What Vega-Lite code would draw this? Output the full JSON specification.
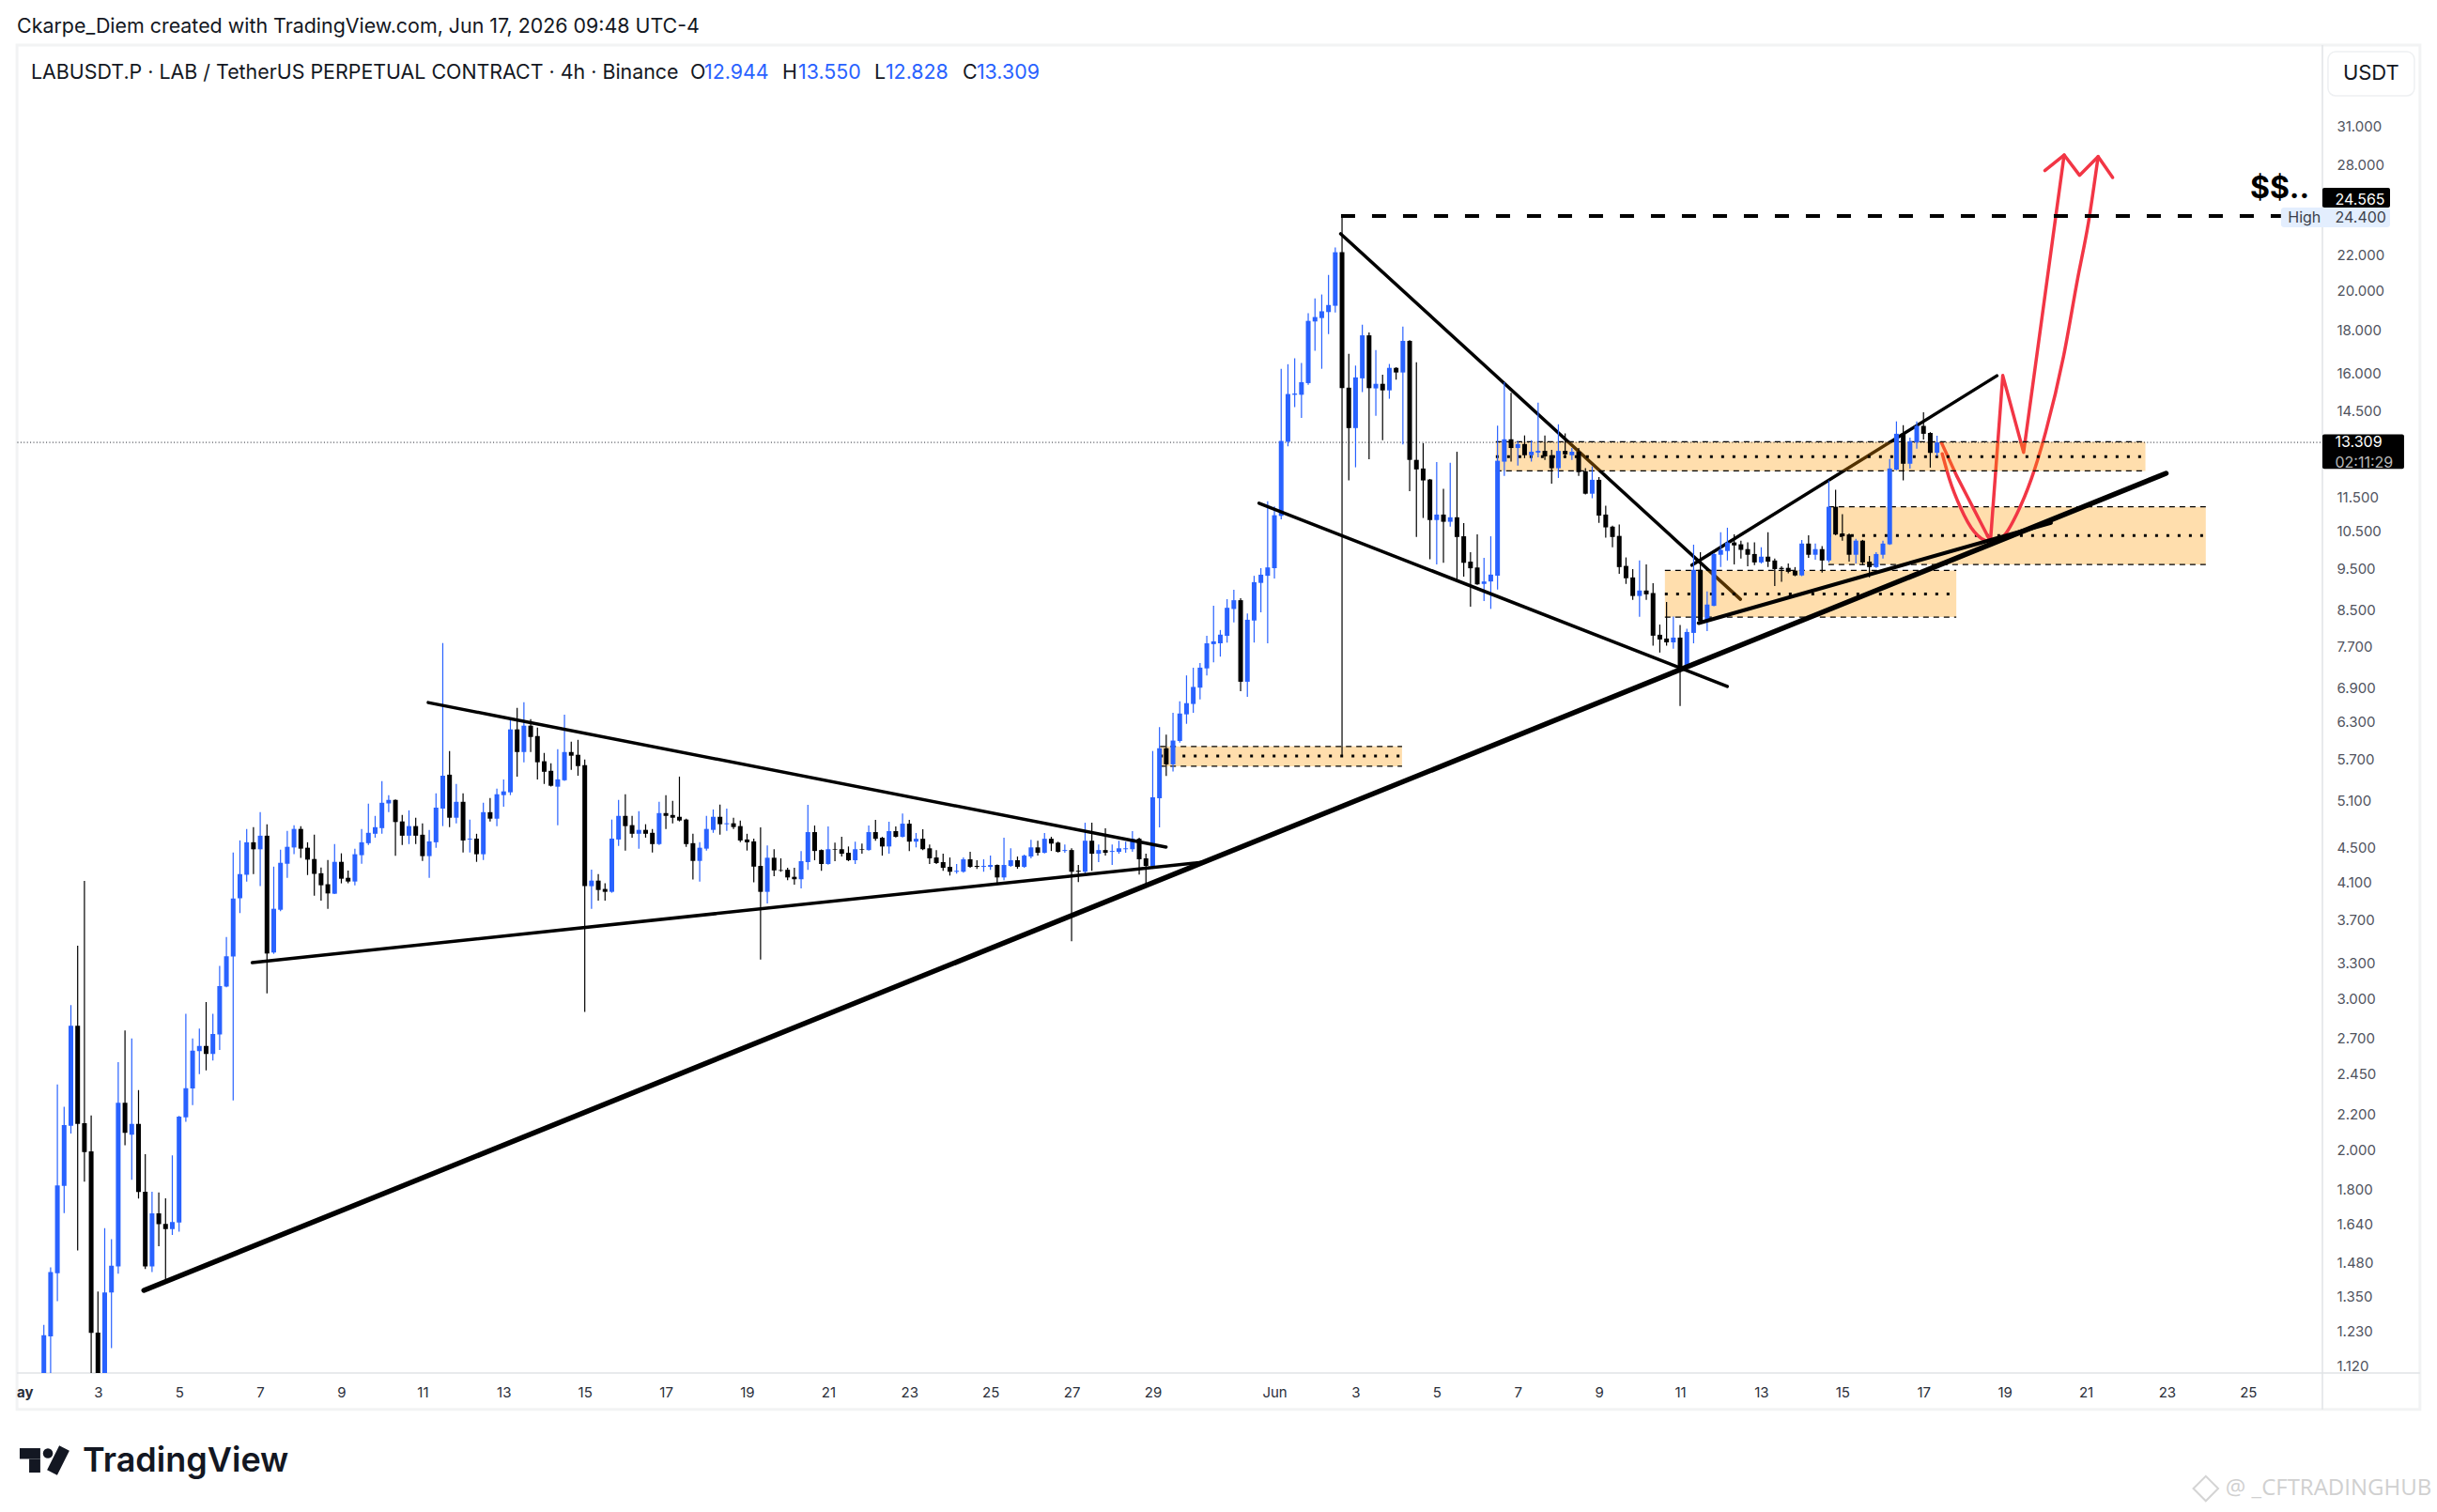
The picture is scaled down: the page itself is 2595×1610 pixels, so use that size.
{
"$schema":"https://vega.github.io/schema/vega-lite/v6.json",
"description":"LABUSDT.P 4h candles with trend lines, supply zones and projected path",
"width":2454.5,"height":1414,"autosize":"none",
"padding":{"left":18.5,"top":48,"right":122,"bottom":148},
"background":"white",
"config":{"view":{"stroke":null},"font":"Inter"},
"resolve":{"axis":{"x":"independent","y":"independent"}},
"datasets":{
"candles":[
{"t":"2026-05-01T16:00Z","o":1.05,"h":1.252,"l":1.0,"c":1.218},
{"t":"2026-05-01T20:00Z","o":1.214,"h":1.46,"l":1.05,"c":1.442},
{"t":"2026-05-02T00:00Z","o":1.438,"h":2.384,"l":1.334,"c":1.819},
{"t":"2026-05-02T04:00Z","o":1.817,"h":2.246,"l":1.689,"c":2.138},
{"t":"2026-05-02T08:00Z","o":2.134,"h":2.949,"l":2.09,"c":2.79},
{"t":"2026-05-02T12:00Z","o":2.79,"h":3.456,"l":1.528,"c":2.145},
{"t":"2026-05-02T16:00Z","o":2.149,"h":4.111,"l":1.837,"c":1.989},
{"t":"2026-05-02T20:00Z","o":1.993,"h":2.193,"l":1.05,"c":1.225},
{"t":"2026-05-03T00:00Z","o":1.226,"h":1.369,"l":1.0,"c":1.05},
{"t":"2026-05-03T04:00Z","o":1.05,"h":1.622,"l":1.0,"c":1.365},
{"t":"2026-05-03T08:00Z","o":1.365,"h":1.575,"l":1.176,"c":1.467},
{"t":"2026-05-03T12:00Z","o":1.464,"h":2.531,"l":1.436,"c":2.27},
{"t":"2026-05-03T16:00Z","o":2.27,"h":2.755,"l":2.025,"c":2.094},
{"t":"2026-05-03T20:00Z","o":2.083,"h":2.696,"l":1.847,"c":2.145},
{"t":"2026-05-04T00:00Z","o":2.145,"h":2.348,"l":1.756,"c":1.787},
{"t":"2026-05-04T04:00Z","o":1.788,"h":1.978,"l":1.454,"c":1.464},
{"t":"2026-05-04T08:00Z","o":1.464,"h":1.788,"l":1.442,"c":1.688},
{"t":"2026-05-04T12:00Z","o":1.688,"h":1.785,"l":1.545,"c":1.639},
{"t":"2026-05-04T16:00Z","o":1.641,"h":1.757,"l":1.411,"c":1.618},
{"t":"2026-05-04T20:00Z","o":1.618,"h":1.971,"l":1.593,"c":1.649},
{"t":"2026-05-05T00:00Z","o":1.647,"h":2.191,"l":1.607,"c":2.187},
{"t":"2026-05-05T04:00Z","o":2.183,"h":2.88,"l":2.157,"c":2.36},
{"t":"2026-05-05T08:00Z","o":2.358,"h":2.696,"l":2.255,"c":2.609},
{"t":"2026-05-05T12:00Z","o":2.607,"h":2.769,"l":2.45,"c":2.642},
{"t":"2026-05-05T16:00Z","o":2.642,"h":2.973,"l":2.475,"c":2.586},
{"t":"2026-05-05T20:00Z","o":2.586,"h":2.88,"l":2.542,"c":2.729},
{"t":"2026-05-06T00:00Z","o":2.726,"h":3.275,"l":2.615,"c":3.102},
{"t":"2026-05-06T04:00Z","o":3.099,"h":3.537,"l":3.092,"c":3.361},
{"t":"2026-05-06T08:00Z","o":3.358,"h":4.438,"l":2.284,"c":3.923},
{"t":"2026-05-06T12:00Z","o":3.925,"h":4.583,"l":3.772,"c":4.187},
{"t":"2026-05-06T16:00Z","o":4.18,"h":4.726,"l":4.105,"c":4.56},
{"t":"2026-05-06T20:00Z","o":4.56,"h":4.75,"l":4.187,"c":4.475},
{"t":"2026-05-07T00:00Z","o":4.475,"h":4.943,"l":4.054,"c":4.641},
{"t":"2026-05-07T04:00Z","o":4.641,"h":4.786,"l":3.043,"c":3.385},
{"t":"2026-05-07T08:00Z","o":3.394,"h":4.272,"l":3.382,"c":3.816},
{"t":"2026-05-07T12:00Z","o":3.806,"h":4.471,"l":3.791,"c":4.316},
{"t":"2026-05-07T16:00Z","o":4.305,"h":4.702,"l":4.146,"c":4.505},
{"t":"2026-05-07T20:00Z","o":4.497,"h":4.774,"l":4.416,"c":4.726},
{"t":"2026-05-08T00:00Z","o":4.726,"h":4.762,"l":4.372,"c":4.483},
{"t":"2026-05-08T04:00Z","o":4.494,"h":4.56,"l":4.177,"c":4.353},
{"t":"2026-05-08T08:00Z","o":4.36,"h":4.653,"l":3.952,"c":4.19},
{"t":"2026-05-08T12:00Z","o":4.197,"h":4.261,"l":3.901,"c":4.064},
{"t":"2026-05-08T16:00Z","o":4.075,"h":4.349,"l":3.816,"c":3.976},
{"t":"2026-05-08T20:00Z","o":3.973,"h":4.538,"l":3.97,"c":4.327},
{"t":"2026-05-09T00:00Z","o":4.327,"h":4.427,"l":4.085,"c":4.136},
{"t":"2026-05-09T04:00Z","o":4.146,"h":4.228,"l":4.085,"c":4.105},
{"t":"2026-05-09T08:00Z","o":4.105,"h":4.483,"l":4.064,"c":4.416},
{"t":"2026-05-09T12:00Z","o":4.405,"h":4.726,"l":4.305,"c":4.56},
{"t":"2026-05-09T16:00Z","o":4.549,"h":5.056,"l":4.527,"c":4.677},
{"t":"2026-05-09T20:00Z","o":4.665,"h":4.894,"l":4.617,"c":4.748},
{"t":"2026-05-10T00:00Z","o":4.736,"h":5.371,"l":4.665,"c":5.069},
{"t":"2026-05-10T04:00Z","o":5.06,"h":5.174,"l":4.943,"c":5.108},
{"t":"2026-05-10T08:00Z","o":5.108,"h":5.115,"l":4.398,"c":4.814},
{"t":"2026-05-10T12:00Z","o":4.822,"h":4.906,"l":4.527,"c":4.641},
{"t":"2026-05-10T16:00Z","o":4.641,"h":4.967,"l":4.538,"c":4.762},
{"t":"2026-05-10T20:00Z","o":4.762,"h":4.87,"l":4.538,"c":4.641},
{"t":"2026-05-11T00:00Z","o":4.653,"h":4.798,"l":4.338,"c":4.394},
{"t":"2026-05-11T04:00Z","o":4.394,"h":4.714,"l":4.146,"c":4.571},
{"t":"2026-05-11T08:00Z","o":4.56,"h":5.2,"l":4.494,"c":5.003},
{"t":"2026-05-11T12:00Z","o":4.991,"h":7.776,"l":4.762,"c":5.45},
{"t":"2026-05-11T16:00Z","o":5.465,"h":5.822,"l":4.75,"c":4.87},
{"t":"2026-05-11T20:00Z","o":4.87,"h":5.331,"l":4.798,"c":5.082},
{"t":"2026-05-12T00:00Z","o":5.082,"h":5.2,"l":4.438,"c":4.582},
{"t":"2026-05-12T04:00Z","o":4.594,"h":4.846,"l":4.438,"c":4.605},
{"t":"2026-05-12T08:00Z","o":4.605,"h":4.665,"l":4.327,"c":4.416},
{"t":"2026-05-12T12:00Z","o":4.416,"h":5.069,"l":4.349,"c":4.943},
{"t":"2026-05-12T16:00Z","o":4.943,"h":5.134,"l":4.822,"c":4.858},
{"t":"2026-05-12T20:00Z","o":4.858,"h":5.266,"l":4.762,"c":5.187},
{"t":"2026-05-13T00:00Z","o":5.174,"h":5.397,"l":5.016,"c":5.226},
{"t":"2026-05-13T04:00Z","o":5.213,"h":6.341,"l":5.174,"c":6.17},
{"t":"2026-05-13T08:00Z","o":6.17,"h":6.535,"l":5.437,"c":5.807},
{"t":"2026-05-13T12:00Z","o":5.807,"h":6.637,"l":5.65,"c":6.232},
{"t":"2026-05-13T16:00Z","o":6.232,"h":6.341,"l":5.807,"c":6.046},
{"t":"2026-05-13T20:00Z","o":6.061,"h":6.201,"l":5.397,"c":5.65},
{"t":"2026-05-14T00:00Z","o":5.665,"h":5.793,"l":5.331,"c":5.508},
{"t":"2026-05-14T04:00Z","o":5.522,"h":5.636,"l":5.296,"c":5.305},
{"t":"2026-05-14T08:00Z","o":5.292,"h":5.85,"l":4.774,"c":5.397},
{"t":"2026-05-14T12:00Z","o":5.384,"h":6.418,"l":5.375,"c":5.807},
{"t":"2026-05-14T16:00Z","o":5.807,"h":5.969,"l":5.536,"c":5.75},
{"t":"2026-05-14T20:00Z","o":5.764,"h":6.0,"l":5.45,"c":5.593},
{"t":"2026-05-15T00:00Z","o":5.608,"h":5.693,"l":2.894,"c":4.054},
{"t":"2026-05-15T04:00Z","o":4.054,"h":4.238,"l":3.816,"c":4.115},
{"t":"2026-05-15T08:00Z","o":4.115,"h":4.187,"l":3.901,"c":4.013},
{"t":"2026-05-15T12:00Z","o":4.024,"h":4.085,"l":3.901,"c":3.993},
{"t":"2026-05-15T16:00Z","o":3.993,"h":4.846,"l":3.983,"c":4.605},
{"t":"2026-05-15T20:00Z","o":4.594,"h":5.108,"l":4.516,"c":4.894},
{"t":"2026-05-16T00:00Z","o":4.894,"h":5.187,"l":4.46,"c":4.762},
{"t":"2026-05-16T04:00Z","o":4.774,"h":4.894,"l":4.617,"c":4.665},
{"t":"2026-05-16T08:00Z","o":4.665,"h":4.955,"l":4.483,"c":4.714},
{"t":"2026-05-16T12:00Z","o":4.714,"h":4.786,"l":4.617,"c":4.665},
{"t":"2026-05-16T16:00Z","o":4.677,"h":4.726,"l":4.438,"c":4.538},
{"t":"2026-05-16T20:00Z","o":4.538,"h":5.082,"l":4.527,"c":4.931},
{"t":"2026-05-17T00:00Z","o":4.931,"h":5.174,"l":4.726,"c":4.894},
{"t":"2026-05-17T04:00Z","o":4.906,"h":5.095,"l":4.798,"c":4.87},
{"t":"2026-05-17T08:00Z","o":4.882,"h":5.437,"l":4.822,"c":4.834},
{"t":"2026-05-17T12:00Z","o":4.846,"h":4.858,"l":4.505,"c":4.538},
{"t":"2026-05-17T16:00Z","o":4.549,"h":4.665,"l":4.126,"c":4.338},
{"t":"2026-05-17T20:00Z","o":4.338,"h":4.56,"l":4.105,"c":4.494},
{"t":"2026-05-18T00:00Z","o":4.483,"h":4.894,"l":4.46,"c":4.726},
{"t":"2026-05-18T04:00Z","o":4.714,"h":4.979,"l":4.677,"c":4.882},
{"t":"2026-05-18T08:00Z","o":4.882,"h":5.043,"l":4.653,"c":4.786},
{"t":"2026-05-18T12:00Z","o":4.786,"h":4.991,"l":4.702,"c":4.798},
{"t":"2026-05-18T16:00Z","o":4.798,"h":4.87,"l":4.726,"c":4.75},
{"t":"2026-05-18T20:00Z","o":4.762,"h":4.834,"l":4.56,"c":4.582},
{"t":"2026-05-19T00:00Z","o":4.594,"h":4.665,"l":4.46,"c":4.56},
{"t":"2026-05-19T04:00Z","o":4.571,"h":4.605,"l":4.095,"c":4.272},
{"t":"2026-05-19T08:00Z","o":4.28,"h":4.746,"l":3.331,"c":3.993},
{"t":"2026-05-19T12:00Z","o":3.993,"h":4.52,"l":3.87,"c":4.375},
{"t":"2026-05-19T16:00Z","o":4.375,"h":4.476,"l":4.164,"c":4.229},
{"t":"2026-05-19T20:00Z","o":4.232,"h":4.368,"l":4.214,"c":4.225},
{"t":"2026-05-20T00:00Z","o":4.236,"h":4.258,"l":4.12,"c":4.15},
{"t":"2026-05-20T04:00Z","o":4.157,"h":4.258,"l":4.07,"c":4.13},
{"t":"2026-05-20T08:00Z","o":4.13,"h":4.455,"l":4.03,"c":4.335},
{"t":"2026-05-20T12:00Z","o":4.324,"h":5.041,"l":4.236,"c":4.686},
{"t":"2026-05-20T16:00Z","o":4.686,"h":4.769,"l":4.346,"c":4.455},
{"t":"2026-05-20T20:00Z","o":4.466,"h":4.473,"l":4.225,"c":4.302},
{"t":"2026-05-21T00:00Z","o":4.302,"h":4.758,"l":4.295,"c":4.476},
{"t":"2026-05-21T04:00Z","o":4.476,"h":4.556,"l":4.335,"c":4.469},
{"t":"2026-05-21T08:00Z","o":4.476,"h":4.627,"l":4.389,"c":4.422},
{"t":"2026-05-21T12:00Z","o":4.433,"h":4.509,"l":4.335,"c":4.346},
{"t":"2026-05-21T16:00Z","o":4.346,"h":4.568,"l":4.302,"c":4.476},
{"t":"2026-05-21T20:00Z","o":4.476,"h":4.544,"l":4.422,"c":4.469},
{"t":"2026-05-22T00:00Z","o":4.466,"h":4.769,"l":4.458,"c":4.686},
{"t":"2026-05-22T04:00Z","o":4.686,"h":4.841,"l":4.579,"c":4.603},
{"t":"2026-05-22T08:00Z","o":4.615,"h":4.627,"l":4.4,"c":4.509},
{"t":"2026-05-22T12:00Z","o":4.509,"h":4.817,"l":4.422,"c":4.698},
{"t":"2026-05-22T16:00Z","o":4.698,"h":4.758,"l":4.619,"c":4.627},
{"t":"2026-05-22T20:00Z","o":4.627,"h":4.925,"l":4.619,"c":4.793},
{"t":"2026-05-23T00:00Z","o":4.793,"h":4.841,"l":4.455,"c":4.568},
{"t":"2026-05-23T04:00Z","o":4.568,"h":4.675,"l":4.498,"c":4.603},
{"t":"2026-05-23T08:00Z","o":4.603,"h":4.722,"l":4.466,"c":4.476},
{"t":"2026-05-23T12:00Z","o":4.487,"h":4.532,"l":4.302,"c":4.368},
{"t":"2026-05-23T16:00Z","o":4.378,"h":4.466,"l":4.302,"c":4.313},
{"t":"2026-05-23T20:00Z","o":4.324,"h":4.422,"l":4.225,"c":4.258},
{"t":"2026-05-24T00:00Z","o":4.269,"h":4.378,"l":4.171,"c":4.214},
{"t":"2026-05-24T04:00Z","o":4.214,"h":4.302,"l":4.193,"c":4.225},
{"t":"2026-05-24T08:00Z","o":4.214,"h":4.378,"l":4.204,"c":4.357},
{"t":"2026-05-24T12:00Z","o":4.357,"h":4.444,"l":4.258,"c":4.269},
{"t":"2026-05-24T16:00Z","o":4.28,"h":4.346,"l":4.247,"c":4.269},
{"t":"2026-05-24T20:00Z","o":4.269,"h":4.357,"l":4.214,"c":4.28},
{"t":"2026-05-25T00:00Z","o":4.269,"h":4.4,"l":4.236,"c":4.291},
{"t":"2026-05-25T04:00Z","o":4.291,"h":4.298,"l":4.09,"c":4.15},
{"t":"2026-05-25T08:00Z","o":4.15,"h":4.615,"l":4.12,"c":4.291},
{"t":"2026-05-25T12:00Z","o":4.28,"h":4.487,"l":4.269,"c":4.346},
{"t":"2026-05-25T16:00Z","o":4.346,"h":4.389,"l":4.247,"c":4.269},
{"t":"2026-05-25T20:00Z","o":4.269,"h":4.411,"l":4.258,"c":4.4},
{"t":"2026-05-26T00:00Z","o":4.389,"h":4.591,"l":4.368,"c":4.498},
{"t":"2026-05-26T04:00Z","o":4.498,"h":4.579,"l":4.4,"c":4.433},
{"t":"2026-05-26T08:00Z","o":4.433,"h":4.675,"l":4.426,"c":4.603},
{"t":"2026-05-26T12:00Z","o":4.603,"h":4.627,"l":4.455,"c":4.544},
{"t":"2026-05-26T16:00Z","o":4.556,"h":4.568,"l":4.436,"c":4.444},
{"t":"2026-05-26T20:00Z","o":4.455,"h":4.532,"l":4.433,"c":4.466},
{"t":"2026-05-27T00:00Z","o":4.466,"h":4.487,"l":3.498,"c":4.214},
{"t":"2026-05-27T04:00Z","o":4.225,"h":4.291,"l":4.1,"c":4.214},
{"t":"2026-05-27T08:00Z","o":4.214,"h":4.805,"l":4.171,"c":4.579},
{"t":"2026-05-27T12:00Z","o":4.579,"h":4.805,"l":4.225,"c":4.422},
{"t":"2026-05-27T16:00Z","o":4.422,"h":4.532,"l":4.324,"c":4.466},
{"t":"2026-05-27T20:00Z","o":4.466,"h":4.734,"l":4.4,"c":4.433},
{"t":"2026-05-28T00:00Z","o":4.444,"h":4.532,"l":4.291,"c":4.455},
{"t":"2026-05-28T04:00Z","o":4.444,"h":4.579,"l":4.422,"c":4.487},
{"t":"2026-05-28T08:00Z","o":4.476,"h":4.568,"l":4.433,"c":4.487},
{"t":"2026-05-28T12:00Z","o":4.476,"h":4.698,"l":4.444,"c":4.603},
{"t":"2026-05-28T16:00Z","o":4.603,"h":4.615,"l":4.182,"c":4.357},
{"t":"2026-05-28T20:00Z","o":4.368,"h":4.422,"l":4.07,"c":4.28},
{"t":"2026-05-29T00:00Z","o":4.28,"h":5.823,"l":4.247,"c":5.144},
{"t":"2026-05-29T04:00Z","o":5.131,"h":6.207,"l":4.746,"c":5.866},
{"t":"2026-05-29T08:00Z","o":5.866,"h":6.085,"l":5.448,"c":5.618},
{"t":"2026-05-29T12:00Z","o":5.618,"h":6.451,"l":5.513,"c":5.988},
{"t":"2026-05-29T16:00Z","o":5.982,"h":6.652,"l":5.957,"c":6.438},
{"t":"2026-05-29T20:00Z","o":6.424,"h":7.13,"l":6.263,"c":6.619},
{"t":"2026-05-30T00:00Z","o":6.605,"h":7.28,"l":6.451,"c":6.913},
{"t":"2026-05-30T04:00Z","o":6.9,"h":7.37,"l":6.685,"c":7.28},
{"t":"2026-05-30T08:00Z","o":7.265,"h":7.927,"l":7.13,"c":7.77},
{"t":"2026-05-30T12:00Z","o":7.753,"h":8.592,"l":7.385,"c":7.811},
{"t":"2026-05-30T16:00Z","o":7.77,"h":8.052,"l":7.498,"c":7.952},
{"t":"2026-05-30T20:00Z","o":7.927,"h":8.748,"l":7.786,"c":8.546},
{"t":"2026-05-31T00:00Z","o":8.518,"h":8.969,"l":8.218,"c":8.721},
{"t":"2026-05-31T04:00Z","o":8.721,"h":8.767,"l":6.833,"c":7.01},
{"t":"2026-05-31T08:00Z","o":7.01,"h":8.417,"l":6.732,"c":8.276},
{"t":"2026-05-31T12:00Z","o":8.259,"h":9.31,"l":7.786,"c":9.153},
{"t":"2026-05-31T16:00Z","o":9.135,"h":9.502,"l":8.442,"c":9.338},
{"t":"2026-05-31T20:00Z","o":9.31,"h":11.37,"l":7.77,"c":9.522},
{"t":"2026-06-01T00:00Z","o":9.502,"h":11.21,"l":9.245,"c":10.95},
{"t":"2026-06-01T04:00Z","o":10.93,"h":16.21,"l":10.83,"c":13.36},
{"t":"2026-06-01T08:00Z","o":13.33,"h":16.41,"l":13.17,"c":15.15},
{"t":"2026-06-01T12:00Z","o":15.12,"h":16.67,"l":14.63,"c":15.17},
{"t":"2026-06-01T16:00Z","o":15.12,"h":16.46,"l":14.21,"c":15.64},
{"t":"2026-06-01T20:00Z","o":15.6,"h":18.81,"l":15.53,"c":18.43},
{"t":"2026-06-02T00:00Z","o":18.4,"h":19.57,"l":17.01,"c":18.62},
{"t":"2026-06-02T04:00Z","o":18.57,"h":19.78,"l":16.21,"c":18.91},
{"t":"2026-06-02T08:00Z","o":18.87,"h":20.84,"l":17.79,"c":19.23},
{"t":"2026-06-02T12:00Z","o":19.19,"h":22.43,"l":18.85,"c":22.15},
{"t":"2026-06-02T16:00Z","o":22.15,"h":24.4,"l":5.75,"c":15.39},
{"t":"2026-06-02T20:00Z","o":15.41,"h":16.87,"l":12.02,"c":13.83},
{"t":"2026-06-03T00:00Z","o":13.83,"h":16.35,"l":12.45,"c":15.84},
{"t":"2026-06-03T04:00Z","o":15.8,"h":18.24,"l":15.23,"c":17.73},
{"t":"2026-06-03T08:00Z","o":17.73,"h":17.87,"l":12.72,"c":15.39},
{"t":"2026-06-03T12:00Z","o":15.38,"h":17.04,"l":14.29,"c":15.57},
{"t":"2026-06-03T16:00Z","o":15.57,"h":15.95,"l":13.39,"c":15.3},
{"t":"2026-06-03T20:00Z","o":15.3,"h":16.42,"l":14.96,"c":16.25},
{"t":"2026-06-04T00:00Z","o":16.25,"h":16.28,"l":15.75,"c":16.05},
{"t":"2026-06-04T04:00Z","o":16.05,"h":18.15,"l":13.24,"c":17.47},
{"t":"2026-06-04T08:00Z","o":17.47,"h":17.5,"l":11.68,"c":12.7},
{"t":"2026-06-04T12:00Z","o":12.7,"h":16.5,"l":10.33,"c":12.38},
{"t":"2026-06-04T16:00Z","o":12.41,"h":13.28,"l":10.87,"c":12.02},
{"t":"2026-06-04T20:00Z","o":12.05,"h":12.07,"l":9.73,"c":10.81},
{"t":"2026-06-05T00:00Z","o":10.81,"h":12.63,"l":9.6,"c":10.97},
{"t":"2026-06-05T04:00Z","o":10.97,"h":11.75,"l":9.64,"c":10.76},
{"t":"2026-06-05T08:00Z","o":10.76,"h":12.6,"l":10.62,"c":10.89},
{"t":"2026-06-05T12:00Z","o":10.89,"h":12.98,"l":9.22,"c":10.33},
{"t":"2026-06-05T16:00Z","o":10.35,"h":10.72,"l":9.29,"c":9.64},
{"t":"2026-06-05T20:00Z","o":9.67,"h":9.92,"l":8.57,"c":9.5},
{"t":"2026-06-06T00:00Z","o":9.52,"h":10.4,"l":9.09,"c":9.1},
{"t":"2026-06-06T04:00Z","o":9.11,"h":9.77,"l":8.7,"c":9.17},
{"t":"2026-06-06T08:00Z","o":9.17,"h":10.35,"l":8.52,"c":9.34},
{"t":"2026-06-06T12:00Z","o":9.313,"h":13.92,"l":8.976,"c":12.67},
{"t":"2026-06-06T16:00Z","o":12.64,"h":15.64,"l":12.17,"c":13.42},
{"t":"2026-06-06T20:00Z","o":13.42,"h":15.2,"l":12.64,"c":13.11},
{"t":"2026-06-07T00:00Z","o":13.11,"h":13.35,"l":12.51,"c":13.25},
{"t":"2026-06-07T04:00Z","o":13.25,"h":13.56,"l":12.76,"c":12.86},
{"t":"2026-06-07T08:00Z","o":12.86,"h":13.39,"l":12.64,"c":12.98},
{"t":"2026-06-07T12:00Z","o":12.95,"h":14.8,"l":12.79,"c":13.01},
{"t":"2026-06-07T16:00Z","o":13.01,"h":13.56,"l":12.7,"c":12.82},
{"t":"2026-06-07T20:00Z","o":12.86,"h":13.05,"l":11.92,"c":12.42},
{"t":"2026-06-08T00:00Z","o":12.42,"h":13.97,"l":12.1,"c":13.01},
{"t":"2026-06-08T04:00Z","o":13.01,"h":13.63,"l":12.76,"c":12.89},
{"t":"2026-06-08T08:00Z","o":12.86,"h":13.11,"l":12.7,"c":12.98},
{"t":"2026-06-08T12:00Z","o":12.98,"h":13.11,"l":12.17,"c":12.29},
{"t":"2026-06-08T16:00Z","o":12.32,"h":12.42,"l":11.58,"c":11.6},
{"t":"2026-06-08T20:00Z","o":11.6,"h":12.48,"l":11.46,"c":12.04},
{"t":"2026-06-09T00:00Z","o":12.04,"h":12.13,"l":10.73,"c":10.94},
{"t":"2026-06-09T04:00Z","o":10.97,"h":11.23,"l":10.31,"c":10.6},
{"t":"2026-06-09T08:00Z","o":10.62,"h":10.65,"l":10.05,"c":10.33},
{"t":"2026-06-09T12:00Z","o":10.36,"h":10.68,"l":9.36,"c":9.53},
{"t":"2026-06-09T16:00Z","o":9.56,"h":9.78,"l":9.11,"c":9.25},
{"t":"2026-06-09T20:00Z","o":9.27,"h":9.48,"l":8.73,"c":8.82},
{"t":"2026-06-10T00:00Z","o":8.82,"h":9.7,"l":8.34,"c":8.95},
{"t":"2026-06-10T04:00Z","o":8.95,"h":9.6,"l":8.73,"c":8.86},
{"t":"2026-06-10T08:00Z","o":8.89,"h":9.13,"l":7.72,"c":7.93},
{"t":"2026-06-10T12:00Z","o":7.95,"h":8.17,"l":7.58,"c":7.85},
{"t":"2026-06-10T16:00Z","o":7.87,"h":8.68,"l":7.72,"c":7.79},
{"t":"2026-06-10T20:00Z","o":7.79,"h":8.35,"l":7.66,"c":7.89},
{"t":"2026-06-11T00:00Z","o":7.89,"h":8.16,"l":6.57,"c":7.25},
{"t":"2026-06-11T04:00Z","o":7.27,"h":8.08,"l":7.26,"c":8.01},
{"t":"2026-06-11T08:00Z","o":7.99,"h":10.12,"l":7.77,"c":9.46},
{"t":"2026-06-11T12:00Z","o":9.46,"h":9.92,"l":8.19,"c":8.25},
{"t":"2026-06-11T16:00Z","o":8.25,"h":8.93,"l":8.03,"c":8.62},
{"t":"2026-06-11T20:00Z","o":8.59,"h":9.89,"l":8.58,"c":9.87},
{"t":"2026-06-12T00:00Z","o":9.85,"h":10.46,"l":9.53,"c":9.98},
{"t":"2026-06-12T04:00Z","o":9.95,"h":10.59,"l":9.7,"c":10.18},
{"t":"2026-06-12T08:00Z","o":10.18,"h":10.4,"l":9.6,"c":10.1},
{"t":"2026-06-12T12:00Z","o":10.13,"h":10.23,"l":9.75,"c":9.98},
{"t":"2026-06-12T16:00Z","o":10.0,"h":10.18,"l":9.55,"c":9.85},
{"t":"2026-06-12T20:00Z","o":9.87,"h":10.18,"l":9.58,"c":9.65},
{"t":"2026-06-13T00:00Z","o":9.65,"h":10.05,"l":9.62,"c":9.8},
{"t":"2026-06-13T04:00Z","o":9.8,"h":10.46,"l":9.53,"c":9.67},
{"t":"2026-06-13T08:00Z","o":9.7,"h":9.75,"l":9.06,"c":9.48},
{"t":"2026-06-13T12:00Z","o":9.51,"h":9.55,"l":9.16,"c":9.48},
{"t":"2026-06-13T16:00Z","o":9.51,"h":9.62,"l":9.37,"c":9.41},
{"t":"2026-06-13T20:00Z","o":9.44,"h":9.53,"l":9.3,"c":9.32},
{"t":"2026-06-14T00:00Z","o":9.32,"h":10.25,"l":9.3,"c":10.15},
{"t":"2026-06-14T04:00Z","o":10.15,"h":10.38,"l":9.77,"c":9.85},
{"t":"2026-06-14T08:00Z","o":9.85,"h":10.15,"l":9.72,"c":10.0},
{"t":"2026-06-14T12:00Z","o":10.0,"h":10.08,"l":9.39,"c":9.7},
{"t":"2026-06-14T16:00Z","o":9.7,"h":12.02,"l":9.65,"c":11.2},
{"t":"2026-06-14T20:00Z","o":11.2,"h":11.72,"l":10.38,"c":10.4},
{"t":"2026-06-15T00:00Z","o":10.43,"h":10.98,"l":10.23,"c":10.35},
{"t":"2026-06-15T04:00Z","o":10.4,"h":10.43,"l":9.67,"c":9.85},
{"t":"2026-06-15T08:00Z","o":9.85,"h":10.28,"l":9.62,"c":10.23},
{"t":"2026-06-15T12:00Z","o":10.23,"h":10.25,"l":9.58,"c":9.65},
{"t":"2026-06-15T16:00Z","o":9.67,"h":9.82,"l":9.27,"c":9.53},
{"t":"2026-06-15T20:00Z","o":9.53,"h":9.92,"l":9.51,"c":9.87},
{"t":"2026-06-16T00:00Z","o":9.85,"h":10.23,"l":9.75,"c":10.15},
{"t":"2026-06-16T04:00Z","o":10.13,"h":12.73,"l":10.11,"c":12.41},
{"t":"2026-06-16T08:00Z","o":12.375,"h":14.08,"l":12.35,"c":13.62},
{"t":"2026-06-16T12:00Z","o":13.62,"h":13.94,"l":12.02,"c":12.57},
{"t":"2026-06-16T16:00Z","o":12.57,"h":13.48,"l":12.41,"c":13.35},
{"t":"2026-06-16T20:00Z","o":13.31,"h":14.08,"l":13.09,"c":13.91},
{"t":"2026-06-17T00:00Z","o":13.91,"h":14.43,"l":13.41,"c":13.62},
{"t":"2026-06-17T04:00Z","o":13.65,"h":13.68,"l":12.44,"c":12.94},
{"t":"2026-06-17T08:00Z","o":12.944,"h":13.55,"l":12.828,"c":13.309}
],
"zones":[
{"name":"A","t":"2026-05-29T04:18Z","t2":"2026-06-04T03:30Z","top":5.894,"bot":5.59,"mid":5.747},
{"name":"B","t":"2026-06-06T11:00Z","t2":"2026-06-22T11:18Z","top":13.33,"bot":12.33,"mid":12.81},
{"name":"C","t":"2026-06-14T15:42Z","t2":"2026-06-23T23:00Z","top":11.2,"bot":9.596,"mid":10.37},
{"name":"D","t":"2026-06-10T15:00Z","t2":"2026-06-17T19:24Z","top":9.445,"bot":8.335,"mid":8.869}
],
"lines":[
{"s":"bold","t":"2026-05-04T03:13Z","p":1.373},
{"s":"bold","t":"2026-06-22T23:30Z","p":12.25},
{"s":"triLow","t":"2026-05-06T19:18Z","p":3.304},
{"s":"triLow","t":"2026-05-30T06:18Z","p":4.325},
{"s":"triUp","t":"2026-05-11T03:24Z","p":6.629},
{"s":"triUp","t":"2026-05-29T07:54Z","p":4.502},
{"s":"fallUp","t":"2026-06-02T15:12Z","p":23.27},
{"s":"fallUp","t":"2026-06-12T11:42Z","p":8.743},
{"s":"fallLow","t":"2026-05-31T14:54Z","p":11.31},
{"s":"fallLow","t":"2026-06-12T03:54Z","p":6.924},
{"s":"riseUp","t":"2026-06-11T07:00Z","p":9.579},
{"s":"riseUp","t":"2026-06-18T19:24Z","p":15.91},
{"s":"riseLow","t":"2026-06-11T11:00Z","p":8.203},
{"s":"riseLow","t":"2026-06-20T03:24Z","p":10.73},
{"s":"redA","t":"2026-06-17T10:42Z","p":13.29},
{"s":"redA","t":"2026-06-17T19:36Z","p":12.17},
{"s":"redA","t":"2026-06-18T15:36Z","p":10.21},
{"s":"redA","t":"2026-06-18T22:54Z","p":15.92},
{"s":"redA","t":"2026-06-19T11:12Z","p":12.96},
{"s":"redA","t":"2026-06-20T11:12Z","p":28.74},
{"s":"redHead","t":"2026-06-19T23:48Z","p":27.56},
{"s":"redHead","t":"2026-06-20T11:12Z","p":28.74},
{"s":"redHead","t":"2026-06-20T20:18Z","p":27.22},
{"s":"redHead","t":"2026-06-21T07:18Z","p":28.62},
{"s":"redHead","t":"2026-06-21T15:54Z","p":27.06}
],
"curve":[
{"t":"2026-06-17T11:06Z","p":12.91},
{"t":"2026-06-17T15:18Z","p":12.07},
{"t":"2026-06-17T21:42Z","p":11.2},
{"t":"2026-06-18T06:06Z","p":10.47},
{"t":"2026-06-18T14:54Z","p":10.21},
{"t":"2026-06-18T22:54Z","p":10.34},
{"t":"2026-06-19T07:24Z","p":11.01},
{"t":"2026-06-19T15:48Z","p":12.07},
{"t":"2026-06-20T00:18Z","p":13.69},
{"t":"2026-06-20T10:48Z","p":16.74},
{"t":"2026-06-20T19:12Z","p":20.64},
{"t":"2026-06-21T01:36Z","p":24.0},
{"t":"2026-06-21T07:18Z","p":28.62}
]
},
"layer":[
{"data":{"values":[{"t":"2026-05-01T00:06Z","t2":"2026-06-29T05:42Z","p":38.58,"p2":0.998}]},
 "mark":{"type":"rect","fillOpacity":0,"stroke":"#f2f3f4","strokeWidth":3},
 "encoding":{"x":{"field":"t","type":"temporal","title":null,
   "scale":{"type":"utc","domain":["2026-05-01T00:20Z","2026-06-26T20:00Z"],"nice":false,"padding":0},
   "axis":{"values":["2026-05-03T00:00Z","2026-05-05T00:00Z","2026-05-07T00:00Z","2026-05-09T00:00Z","2026-05-11T00:00Z","2026-05-13T00:00Z","2026-05-15T00:00Z","2026-05-17T00:00Z","2026-05-19T00:00Z","2026-05-21T00:00Z","2026-05-23T00:00Z","2026-05-25T00:00Z","2026-05-27T00:00Z","2026-05-29T00:00Z","2026-06-01T00:00Z","2026-06-03T00:00Z","2026-06-05T00:00Z","2026-06-07T00:00Z","2026-06-09T00:00Z","2026-06-11T00:00Z","2026-06-13T00:00Z","2026-06-15T00:00Z","2026-06-17T00:00Z","2026-06-19T00:00Z","2026-06-21T00:00Z","2026-06-23T00:00Z","2026-06-25T00:00Z"],
    "labelExpr":"utcdate(datum.value)==1 ? 'Jun' : utcFormat(datum.value,'%-d')",
    "ticks":false,"domain":false,"grid":false,"labelPadding":13,"labelFontSize":15,"labelColor":"#2a2e39","labelOverlap":false,"labelFlush":false,"labelBound":false,"title":null}},
  "x2":{"field":"t2"},
  "y":{"field":"p","type":"quantitative","title":null,
   "scale":{"type":"log","domain":[1.1004,38.58],"nice":false},
   "axis":{"orient":"right","values":[31,28,22,20,18,16,14.5,11.5,10.5,9.5,8.5,7.7,6.9,6.3,5.7,5.1,4.5,4.1,3.7,3.3,3,2.7,2.45,2.2,2,1.8,1.64,1.48,1.35,1.23,1.12],
    "format":".3f","ticks":false,"domain":false,"grid":false,"labelPadding":15,"labelFontSize":15,"labelColor":"#50535e","labelOverlap":false,"labelFlush":false,"labelBound":false,"title":null}},
  "y2":{"field":"p2"}}},
{"data":{"values":[{"t":"2026-06-26T20:00Z","p":38.58,"p2":0.998}]},
 "mark":{"type":"rule","color":"#e0e3e6","strokeWidth":1.5},
 "encoding":{"x":{"field":"t","type":"temporal","axis":null},"y":{"field":"p","type":"quantitative","axis":null},"y2":{"field":"p2"}}},
{"data":{"values":[{"t":"2026-05-01T00:06Z","t2":"2026-06-29T05:42Z","p":1.1004}]},
 "mark":{"type":"rule","color":"#e0e3e6","strokeWidth":1.5},
 "encoding":{"x":{"field":"t","type":"temporal","axis":null},"x2":{"field":"t2"},"y":{"field":"p","type":"quantitative","axis":null}}},
{"data":{"name":"zones"},"transform":[{"filter":"datum.name=='C'"}],
 "encoding":{"x":{"field":"t","type":"temporal","axis":null},"x2":{"field":"t2"}},
 "layer":[
  {"mark":{"type":"rect","color":"#FF9800","opacity":0.32},"encoding":{"y":{"field":"top","type":"quantitative","axis":null},"y2":{"field":"bot"}}},
  {"mark":{"type":"rule","color":"#000","strokeWidth":1.3,"strokeDash":[6,5]},"encoding":{"y":{"field":"top","type":"quantitative","axis":null}}},
  {"mark":{"type":"rule","color":"#000","strokeWidth":1.3,"strokeDash":[6,5]},"encoding":{"y":{"field":"bot","type":"quantitative","axis":null}}},
  {"mark":{"type":"rule","color":"#000","strokeWidth":3,"strokeDash":[3,9]},"encoding":{"y":{"field":"mid","type":"quantitative","axis":null}}}
 ]},
{"data":{"name":"lines"},"transform":[{"filter":{"field":"s","oneOf":["fallUp","riseUp"]}}],
 "mark":{"type":"line","color":"#000","strokeWidth":3.5,"strokeCap":"round"},
 "encoding":{"x":{"field":"t","type":"temporal","axis":null},"y":{"field":"p","type":"quantitative","axis":null},"detail":{"field":"s"}}},
{"data":{"name":"lines"},"transform":[{"filter":{"field":"s","oneOf":["redA","redHead"]}}],
 "mark":{"type":"line","color":"#F23645","strokeWidth":3.5,"strokeCap":"round","strokeJoin":"round"},
 "encoding":{"x":{"field":"t","type":"temporal","axis":null},"y":{"field":"p","type":"quantitative","axis":null},"detail":{"field":"s"}}},
{"data":{"name":"curve"},
 "mark":{"type":"line","color":"#F23645","strokeWidth":3.5,"strokeCap":"round","interpolate":"monotone"},
 "encoding":{"x":{"field":"t","type":"temporal","axis":null},"y":{"field":"p","type":"quantitative","axis":null}}},
{"data":{"name":"zones"},"transform":[{"filter":"datum.name!='C'"}],
 "encoding":{"x":{"field":"t","type":"temporal","axis":null},"x2":{"field":"t2"}},
 "layer":[
  {"mark":{"type":"rect","color":"#FF9800","opacity":0.32},"encoding":{"y":{"field":"top","type":"quantitative","axis":null},"y2":{"field":"bot"}}},
  {"mark":{"type":"rule","color":"#000","strokeWidth":1.3,"strokeDash":[6,5]},"encoding":{"y":{"field":"top","type":"quantitative","axis":null}}},
  {"mark":{"type":"rule","color":"#000","strokeWidth":1.3,"strokeDash":[6,5]},"encoding":{"y":{"field":"bot","type":"quantitative","axis":null}}},
  {"mark":{"type":"rule","color":"#000","strokeWidth":3,"strokeDash":[3,9]},"encoding":{"y":{"field":"mid","type":"quantitative","axis":null}}}
 ]},
{"data":{"values":[{"t":"2026-05-01T00:20Z","t2":"2026-06-26T20:00Z","p":13.309}]},
 "mark":{"type":"rule","color":"#131722","strokeWidth":1,"strokeDash":[1,2.4]},
 "encoding":{"x":{"field":"t","type":"temporal","axis":null},"x2":{"field":"t2"},"y":{"field":"p","type":"quantitative","axis":null}}},
{"data":{"values":[{"t":"2026-06-02T15:24Z","t2":"2026-06-25T19:30Z","p":24.4}]},
 "mark":{"type":"rule","color":"#000","strokeWidth":4,"strokeDash":[15,18]},
 "encoding":{"x":{"field":"t","type":"temporal","axis":null},"x2":{"field":"t2"},"y":{"field":"p","type":"quantitative","axis":null}}},
{"data":{"name":"candles"},
 "encoding":{"x":{"field":"t","type":"temporal","axis":null},
  "color":{"condition":{"test":"datum.c>=datum.o","value":"#2962FF"},"value":"#000000"}},
 "layer":[
  {"mark":{"type":"rule","strokeWidth":1.2,"clip":true},"encoding":{"y":{"field":"l","type":"quantitative","axis":null},"y2":{"field":"h"}}},
  {"mark":{"type":"bar","size":5,"clip":true,"minBandSize":1.5},"encoding":{"y":{"field":"o","type":"quantitative","axis":null},"y2":{"field":"c"}}}
 ]},
{"data":{"name":"lines"},"transform":[{"filter":{"field":"s","oneOf":["fallLow","triUp","triLow"]}}],
 "mark":{"type":"line","color":"#000","strokeWidth":3.5,"strokeCap":"round"},
 "encoding":{"x":{"field":"t","type":"temporal","axis":null},"y":{"field":"p","type":"quantitative","axis":null},"detail":{"field":"s"}}},
{"data":{"name":"lines"},"transform":[{"filter":{"field":"s","oneOf":["riseLow"]}}],
 "mark":{"type":"line","color":"#000","strokeWidth":4,"strokeCap":"round"},
 "encoding":{"x":{"field":"t","type":"temporal","axis":null},"y":{"field":"p","type":"quantitative","axis":null}}},
{"data":{"name":"lines"},"transform":[{"filter":{"field":"s","oneOf":["bold"]}}],
 "mark":{"type":"line","color":"#000","strokeWidth":5.5,"strokeCap":"round"},
 "encoding":{"x":{"field":"t","type":"temporal","axis":null},"y":{"field":"p","type":"quantitative","axis":null}}},
{"data":{"values":[{"t":"2026-06-26T20:00Z","t2":"2026-06-28T20:18Z","p":13.6,"p2":12.4},{"t":"2026-06-26T20:00Z","t2":"2026-06-28T12:00Z","p":26.32,"p2":24.97}]},
 "mark":{"type":"rect","color":"#000","cornerRadius":2},
 "encoding":{"x":{"field":"t","type":"temporal","axis":null},"x2":{"field":"t2"},"y":{"field":"p","type":"quantitative","axis":null},"y2":{"field":"p2"}}},
{"data":{"values":[{"t":"2026-06-25T19:30Z","t2":"2026-06-28T12:00Z","p":24.97,"p2":23.68}]},
 "mark":{"type":"rect","color":"#E3EEFE","cornerRadius":3},
 "encoding":{"x":{"field":"t","type":"temporal","axis":null},"x2":{"field":"t2"},"y":{"field":"p","type":"quantitative","axis":null},"y2":{"field":"p2"}}},
{"data":{"values":[{"t":"2026-06-26T23:18Z","t2":"2026-06-29T02:24Z","p":37.9,"p2":33.68}]},
 "mark":{"type":"rect","fillOpacity":0,"stroke":"#eef0f2","strokeWidth":1.5,"cornerRadius":8},
 "encoding":{"x":{"field":"t","type":"temporal","axis":null},"x2":{"field":"t2"},"y":{"field":"p","type":"quantitative","axis":null},"y2":{"field":"p2"}}},
{"data":{"values":[{"t":"2026-05-01T00:06Z","p":40.47,"label":"Ckarpe_Diem created with TradingView.com, Jun 17, 2026 09:48 UTC-4"},
 {"t":"2026-05-01T08:24Z","p":35.78,"label":"LABUSDT.P · LAB / TetherUS PERPETUAL CONTRACT · 4h · Binance"},
 {"t":"2026-05-17T14:24Z","p":35.78,"label":"O"},{"t":"2026-05-19T20:48Z","p":35.78,"label":"H"},{"t":"2026-05-22T03:18Z","p":35.78,"label":"L"},{"t":"2026-05-24T07:30Z","p":35.78,"label":"C"}]},
 "mark":{"type":"text","align":"left","baseline":"middle","fontSize":21.4,"color":"#131722"},
 "encoding":{"x":{"field":"t","type":"temporal","axis":null},"y":{"field":"p","type":"quantitative","axis":null},"text":{"field":"label"}}},
{"data":{"values":[{"t":"2026-05-17T22:42Z","p":35.78,"label":"12.944"},{"t":"2026-05-20T06:18Z","p":35.78,"label":"13.550"},{"t":"2026-05-22T09:54Z","p":35.78,"label":"12.828"},{"t":"2026-05-24T15:48Z","p":35.78,"label":"13.309"}]},
 "mark":{"type":"text","align":"left","baseline":"middle","fontSize":21.4,"color":"#2962FF"},
 "encoding":{"x":{"field":"t","type":"temporal","axis":null},"y":{"field":"p","type":"quantitative","axis":null},"text":{"field":"label"}}},
{"data":{"values":[{"t":"2026-06-25T01:12Z","p":26.25,"label":"$$.."}]},
 "mark":{"type":"text","align":"left","baseline":"middle","fontSize":32,"fontWeight":"bold","color":"#000"},
 "encoding":{"x":{"field":"t","type":"temporal","axis":null},"y":{"field":"p","type":"quantitative","axis":null},"text":{"field":"label"}}},
{"data":{"values":[{"t":"2026-06-27T03:30Z","p":25.46,"label":"24.565"},{"t":"2026-06-27T03:30Z","p":13.3,"label":"13.309"}]},
 "mark":{"type":"text","align":"left","baseline":"middle","fontSize":16,"color":"#ffffff"},
 "encoding":{"x":{"field":"t","type":"temporal","axis":null},"y":{"field":"p","type":"quantitative","axis":null},"text":{"field":"label"}}},
{"data":{"values":[{"t":"2026-06-27T03:30Z","p":12.58,"label":"02:11:29"}]},
 "mark":{"type":"text","align":"left","baseline":"middle","fontSize":16,"color":"#b8b8b8"},
 "encoding":{"x":{"field":"t","type":"temporal","axis":null},"y":{"field":"p","type":"quantitative","axis":null},"text":{"field":"label"}}},
{"data":{"values":[{"t":"2026-06-25T23:36Z","p":24.29,"label":"High"},{"t":"2026-06-27T03:30Z","p":24.29,"label":"24.400"}]},
 "mark":{"type":"text","align":"left","baseline":"middle","fontSize":16,"color":"#3b3f4a"},
 "encoding":{"x":{"field":"t","type":"temporal","axis":null},"y":{"field":"p","type":"quantitative","axis":null},"text":{"field":"label"}}},
{"data":{"values":[{"t":"2026-06-28T00:48Z","p":35.78,"label":"USDT"}]},
 "mark":{"type":"text","align":"center","baseline":"middle","fontSize":22,"color":"#131722"},
 "encoding":{"x":{"field":"t","type":"temporal","axis":null},"y":{"field":"p","type":"quantitative","axis":null},"text":{"field":"label"}}},
{"data":{"values":[{"t":"2026-05-01T00:06Z","p":1.0436,"label":"ay"}]},
 "mark":{"type":"text","align":"left","baseline":"middle","fontSize":15,"fontWeight":"bold","color":"#2a2e39"},
 "encoding":{"x":{"field":"t","type":"temporal","axis":null},"y":{"field":"p","type":"quantitative","axis":null},"text":{"field":"label"}}},
{"data":{"values":[{"t":"2026-05-01T01:42Z","t2":"2026-05-01T13:54Z","p":0.8997,"p2":0.8742},{"t":"2026-05-01T07:18Z","t2":"2026-05-01T13:54Z","p":0.8742,"p2":0.8428}]},
 "mark":{"type":"rect","color":"#131722"},
 "encoding":{"x":{"field":"t","type":"temporal","axis":null},"x2":{"field":"t2"},"y":{"field":"p","type":"quantitative","axis":null},"y2":{"field":"p2"}}},
{"data":{"values":[{"t":"2026-05-01T18:24Z","p":0.8874}]},
 "mark":{"type":"point","shape":"circle","filled":true,"size":110,"color":"#131722","opacity":1},
 "encoding":{"x":{"field":"t","type":"temporal","axis":null},"y":{"field":"p","type":"quantitative","axis":null}}},
{"data":{"values":[{"t":"2026-05-02T04:06Z","p":0.8997},{"t":"2026-05-01T20:54Z","p":0.8428}]},
 "mark":{"type":"line","color":"#131722","strokeWidth":12,"strokeCap":"butt"},
 "encoding":{"x":{"field":"t","type":"temporal","axis":null},"y":{"field":"p","type":"quantitative","axis":null}}},
{"data":{"values":[{"t":"2026-05-02T14:56Z","p":0.868,"label":"TradingView"}]},
 "mark":{"type":"text","align":"left","baseline":"middle","fontSize":36,"fontWeight":600,"color":"#131722"},
 "encoding":{"x":{"field":"t","type":"temporal","axis":null},"y":{"field":"p","type":"quantitative","axis":null},"text":{"field":"label"}}},
{"data":{"values":[{"t":"2026-06-23T23:00Z","p":0.8075}]},
 "mark":{"type":"point","shape":"diamond","size":700,"color":"#d4d4d4","strokeWidth":2,"opacity":1},
 "encoding":{"x":{"field":"t","type":"temporal","axis":null},"y":{"field":"p","type":"quantitative","axis":null}}},
{"data":{"values":[{"t":"2026-06-24T10:42Z","p":0.8075,"label":"@ _CFTRADINGHUB"}]},
 "mark":{"type":"text","align":"left","baseline":"middle","font":"Open Sans","fontSize":24,"color":"#d0d0d0"},
 "encoding":{"x":{"field":"t","type":"temporal","axis":null},"y":{"field":"p","type":"quantitative","axis":null},"text":{"field":"label"}}}
]
}
